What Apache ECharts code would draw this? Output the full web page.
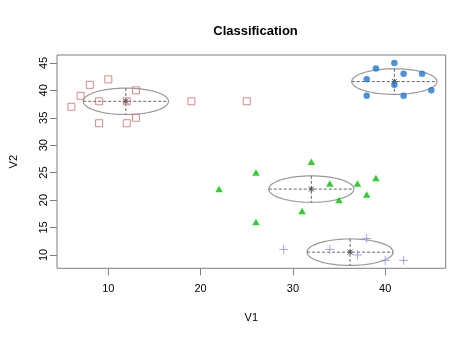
<!DOCTYPE html>
<html>
<head>
<meta charset="utf-8">
<script src="https://cdn.jsdelivr.net/npm/echarts@6/dist/echarts.min.js"></script>
<style>html,body{margin:0;padding:0;background:#fff;}#c{width:474px;height:338px;}</style>
</head>
<body>
<div id="c"></div>
<script>
// ---- data ----
var redX = [6, 7, 8, 10, 9, 12, 13, 9, 12, 13, 19, 25];
var redY = [37, 39, 41, 42, 38, 38, 40, 34, 34, 35, 38, 38];
var blueX = [39, 41, 38, 42, 44, 41, 38, 42, 45];
var blueY = [44, 45, 42, 43, 43, 41, 39, 39, 40];
var greenX = [22, 26, 26, 32, 31, 34, 35, 37, 38, 39];
var greenY = [22, 25, 16, 27, 18, 23, 20, 23, 21, 24];
var purpleX = [29, 34, 38, 37, 40, 42];
var purpleY = [11, 11, 13, 10, 9, 9];
// cluster centres and ellipse half-axes (data units)
var centerX = [11.9, 41.0, 32.0, 36.2];
var centerY = [38.0, 41.6, 22.0, 10.5];
var radiusX = [4.62, 4.62, 4.61, 4.66];
var radiusY = [2.41, 2.33, 2.41, 2.41];
var xTicks = [10, 20, 30, 40];
var yTicks = [10, 15, 20, 25, 30, 35, 40, 45];

function zip(a, b) { return a.map(function (v, i) { return [v, b[i]]; }); }
var centers = centerX.map(function (v, i) { return [v, centerY[i], radiusX[i], radiusY[i]]; });

var chart = echarts.init(document.getElementById('c'), null, {renderer: 'canvas'});
var font = 'Liberation Sans, Arial, sans-serif';
var boxColor = '#7f7f7f';

chart.setOption({
  animation: false,
  backgroundColor: '#fff',
  title: {
    text: 'Classification', left: 250.5, top: 20, textAlign: 'center',
    textStyle: {fontFamily: font, fontSize: 13, fontWeight: 'bold', color: '#000'}
  },
  grid: {left: 55.3, right: 28.3, top: 55, bottom: 69.7, show: true, borderColor: boxColor, borderWidth: 1, backgroundColor: 'transparent'},
  xAxis: {
    type: 'value', min: 4.44, max: 46.56,
    name: 'V1', nameLocation: 'middle', nameGap: 44,
    nameTextStyle: {fontFamily: font, fontSize: 11, color: '#000'},
    axisLine: {show: false},
    axisTick: {show: true, customValues: xTicks, length: 7, lineStyle: {color: boxColor}},
    axisLabel: {customValues: xTicks, margin: 15, fontFamily: font, fontSize: 11, color: '#000'},
    splitLine: {show: false}
  },
  yAxis: {
    type: 'value', min: 7.56, max: 46.44,
    name: 'V2', nameLocation: 'middle', nameGap: 38, nameRotate: 90,
    nameTextStyle: {fontFamily: font, fontSize: 11, color: '#000'},
    axisLine: {show: false},
    axisTick: {show: true, customValues: yTicks, length: 7, lineStyle: {color: boxColor}},
    axisLabel: {customValues: yTicks, rotate: 90, margin: 13, fontFamily: font, fontSize: 11, color: '#000', verticalAlign: 'middle', align: 'center'},
    splitLine: {show: false}
  },
  series: [
    {
      type: 'custom', data: centers, z: 1,
      renderItem: function (params, api) {
        var cx = api.value(0), cy = api.value(1), rx = api.value(2), ry = api.value(3);
        var pts = [];
        for (var k = 0; k <= 72; k++) {
          var t = k / 72 * Math.PI * 2;
          pts.push(api.coord([cx + rx * Math.cos(t), cy + ry * Math.sin(t)]));
        }
        var c = api.coord([cx, cy]);
        var l = api.coord([cx - rx, cy]), r = api.coord([cx + rx, cy]);
        var tp = api.coord([cx, cy + ry]), bt = api.coord([cx, cy - ry]);
        var s = 2.5;
        var dash = {stroke: '#666', lineWidth: 1, lineDash: [3, 2]};
        var star = {stroke: '#555', lineWidth: 1};
        return {
          type: 'group',
          children: [
            {type: 'polyline', shape: {points: pts}, style: {stroke: '#999', lineWidth: 1.2, fill: null}},
            {type: 'line', shape: {x1: l[0], y1: l[1], x2: r[0], y2: r[1]}, style: dash},
            {type: 'line', shape: {x1: tp[0], y1: tp[1], x2: bt[0], y2: bt[1]}, style: dash},
            {type: 'line', shape: {x1: c[0] - s, y1: c[1] - s, x2: c[0] + s, y2: c[1] + s}, style: star},
            {type: 'line', shape: {x1: c[0] - s, y1: c[1] + s, x2: c[0] + s, y2: c[1] - s}, style: star},
            {type: 'line', shape: {x1: c[0] - s, y1: c[1], x2: c[0] + s, y2: c[1]}, style: star},
            {type: 'line', shape: {x1: c[0], y1: c[1] - s, x2: c[0], y2: c[1] + s}, style: star}
          ]
        };
      }
    },
    {
      type: 'scatter', data: zip(redX, redY), symbol: 'rect', symbolSize: 7, z: 3,
      itemStyle: {color: 'rgba(255,255,255,0)', borderColor: '#d26b6b', borderWidth: 1}
    },
    {
      type: 'scatter', data: zip(blueX, blueY), symbol: 'circle', symbolSize: 6.5, z: 3,
      itemStyle: {color: '#1f78d6'}
    },
    {
      type: 'scatter', data: zip(greenX, greenY), symbol: 'triangle', symbolSize: [7.5, 6.5], z: 3,
      itemStyle: {color: '#00c000'}
    },
    {
      type: 'scatter', data: zip(purpleX, purpleY), symbol: 'path://M0,5L10,5M5,0L5,10', symbolSize: 9, z: 3,
      itemStyle: {color: 'rgba(0,0,0,0)', borderColor: '#8f8fe6', borderWidth: 1}
    }
  ]
});
</script>
</body>
</html>
